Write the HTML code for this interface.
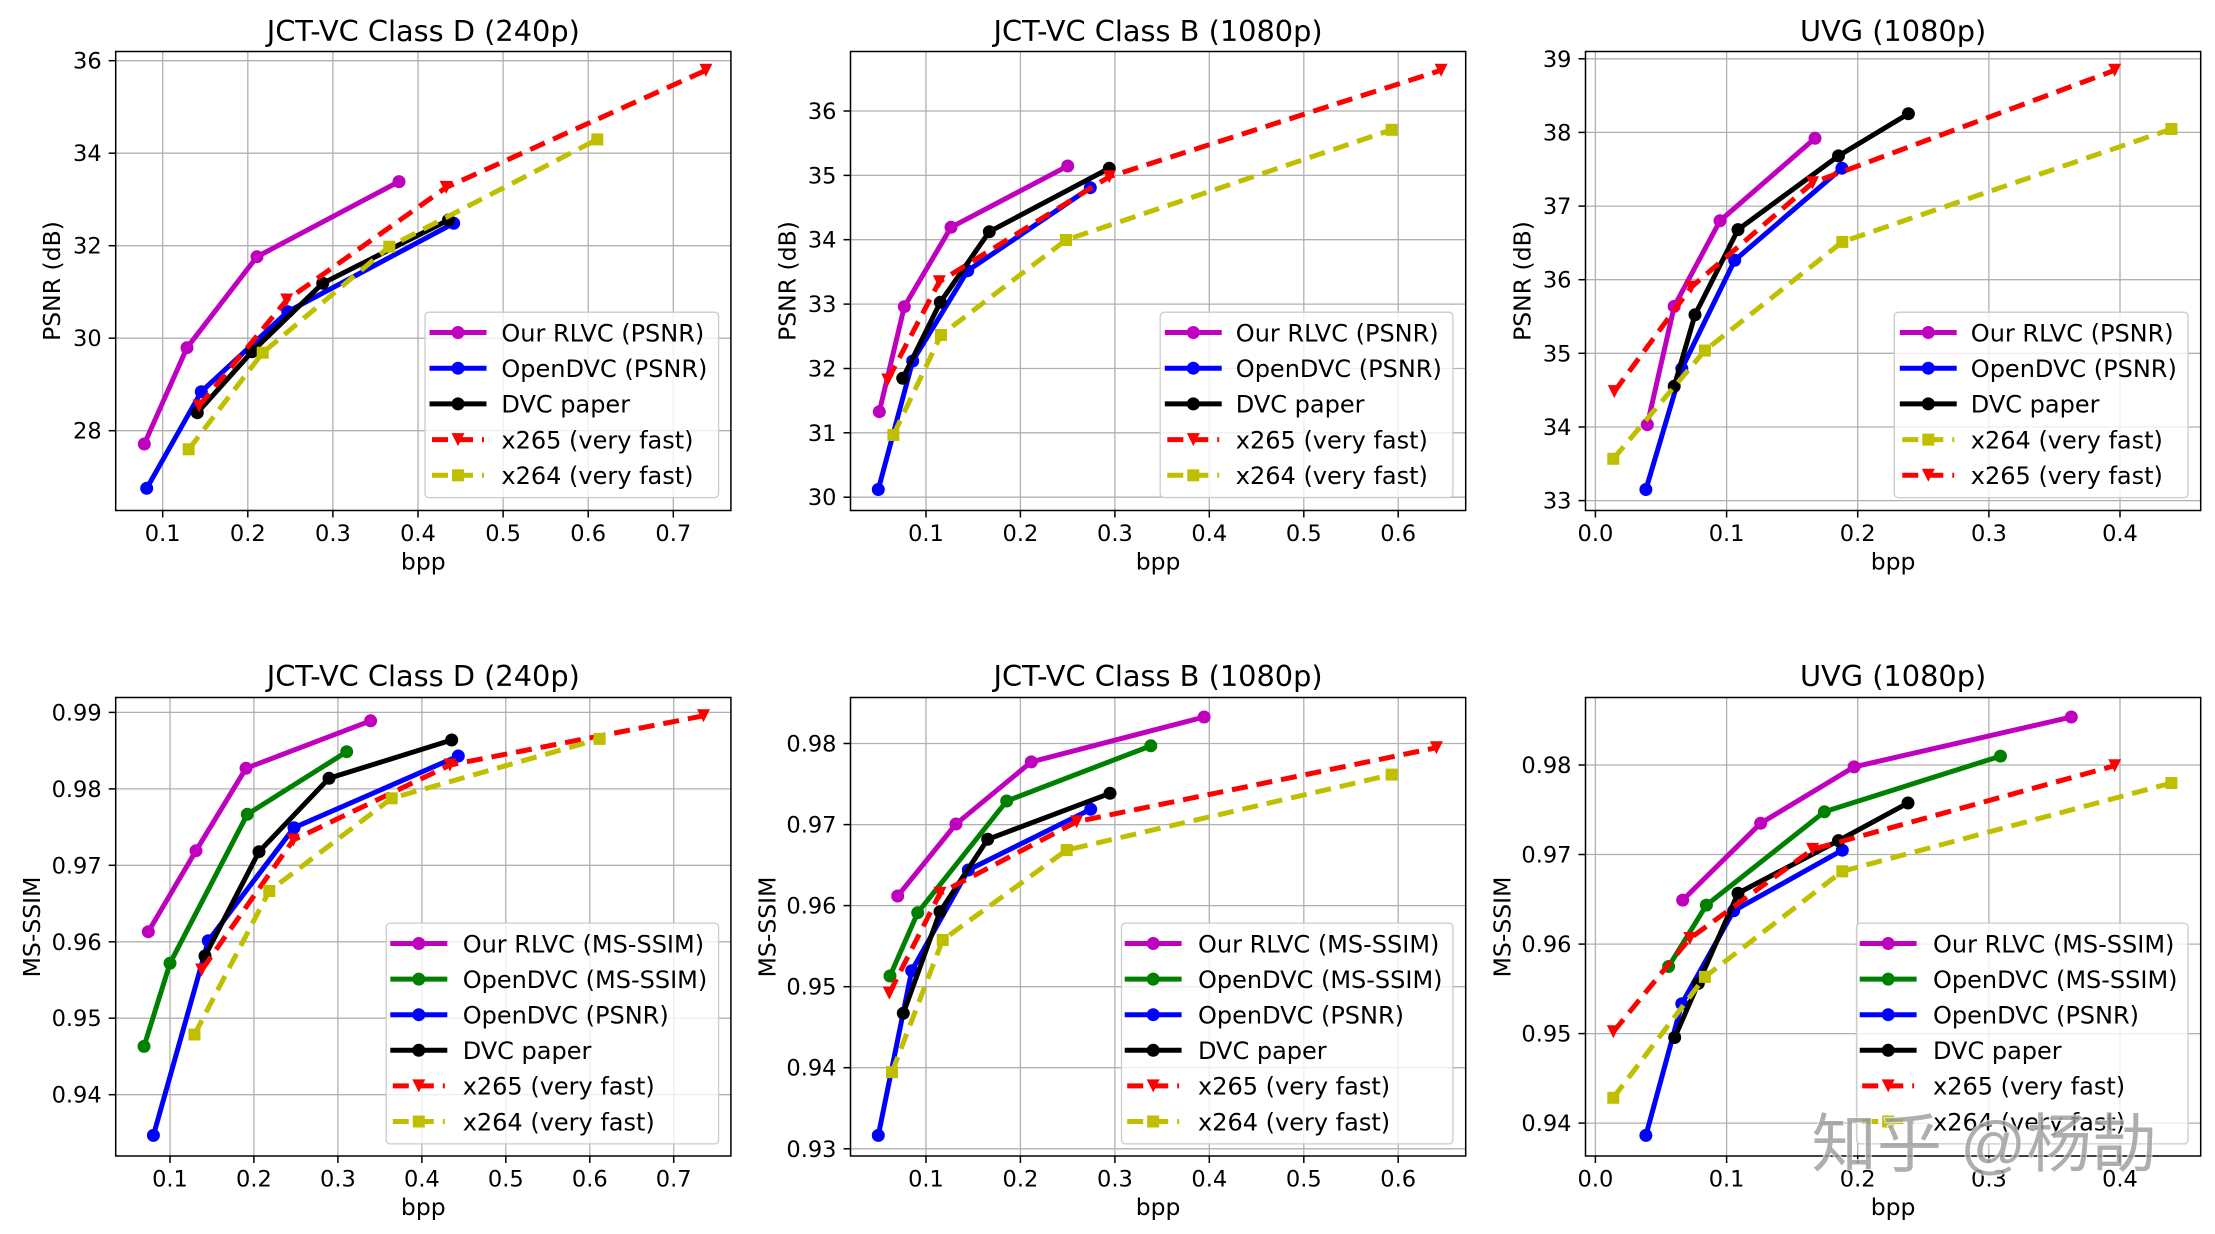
<!DOCTYPE html>
<html>
<head>
<meta charset="utf-8">
<style>
html,body{margin:0;padding:0;background:#fff;}
svg{display:block;}
.grid line{stroke:#b0b0b0;stroke-width:1.3;}
.tk line{stroke:#000;stroke-width:1.5;}
.spine{fill:none;stroke:#000;stroke-width:1.5;}
text{font-family:"DejaVu Sans","Liberation Sans",sans-serif;fill:#000;}
.tl{font-size:22.5px;}
.lb{font-size:23.5px;}
.tt{font-size:28.8px;}
.lg{font-size:24px;}
.s{fill:none;stroke-width:5;stroke-linejoin:round;stroke-linecap:square;}
.d{fill:none;stroke-width:5;stroke-linejoin:round;stroke-linecap:butt;stroke-dasharray:16 9;}
.cm{stroke:#bf00bf;} .cb{stroke:#0000ff;} .ck{stroke:#000;} .cr{stroke:#ff0000;} .cy{stroke:#bfbf00;} .cg{stroke:#008000;}
.leg{fill:#fff;fill-opacity:0.8;stroke:#cccccc;stroke-width:1.3;}
</style>
</head>
<body>
<svg width="2215" height="1234" viewBox="0 0 2215 1234" xmlns="http://www.w3.org/2000/svg">
<defs>
<marker id="om" markerUnits="userSpaceOnUse" markerWidth="16" markerHeight="16" refX="8" refY="8" orient="0"><circle cx="8" cy="8" r="6.5" fill="#bf00bf"/></marker>
<marker id="ob" markerUnits="userSpaceOnUse" markerWidth="16" markerHeight="16" refX="8" refY="8" orient="0"><circle cx="8" cy="8" r="6.5" fill="#0000ff"/></marker>
<marker id="ok" markerUnits="userSpaceOnUse" markerWidth="16" markerHeight="16" refX="8" refY="8" orient="0"><circle cx="8" cy="8" r="6.5" fill="#000"/></marker>
<marker id="og" markerUnits="userSpaceOnUse" markerWidth="16" markerHeight="16" refX="8" refY="8" orient="0"><circle cx="8" cy="8" r="6.5" fill="#008000"/></marker>
<marker id="vr" markerUnits="userSpaceOnUse" markerWidth="16" markerHeight="16" refX="8" refY="8" orient="0"><path d="M1.5,1.5 L14.5,1.5 L8,14.5 Z" fill="#ff0000"/></marker>
<marker id="sy" markerUnits="userSpaceOnUse" markerWidth="16" markerHeight="16" refX="8" refY="8" orient="0"><rect x="2" y="2" width="12" height="12" fill="#bfbf00"/></marker>
</defs>

<!-- ================= TOP LEFT ================= -->
<g class="grid">
<line x1="162.7" y1="51.5" x2="162.7" y2="510.5"/><line x1="247.8" y1="51.5" x2="247.8" y2="510.5"/><line x1="332.9" y1="51.5" x2="332.9" y2="510.5"/><line x1="418" y1="51.5" x2="418" y2="510.5"/><line x1="503.1" y1="51.5" x2="503.1" y2="510.5"/><line x1="588.2" y1="51.5" x2="588.2" y2="510.5"/><line x1="673.3" y1="51.5" x2="673.3" y2="510.5"/>
<line x1="115.7" y1="60.7" x2="730.9" y2="60.7"/><line x1="115.7" y1="153.2" x2="730.9" y2="153.2"/><line x1="115.7" y1="245.7" x2="730.9" y2="245.7"/><line x1="115.7" y1="338.2" x2="730.9" y2="338.2"/><line x1="115.7" y1="430.7" x2="730.9" y2="430.7"/>
</g>
<g class="tk">
<line x1="162.7" y1="510.5" x2="162.7" y2="517.5"/><line x1="247.8" y1="510.5" x2="247.8" y2="517.5"/><line x1="332.9" y1="510.5" x2="332.9" y2="517.5"/><line x1="418" y1="510.5" x2="418" y2="517.5"/><line x1="503.1" y1="510.5" x2="503.1" y2="517.5"/><line x1="588.2" y1="510.5" x2="588.2" y2="517.5"/><line x1="673.3" y1="510.5" x2="673.3" y2="517.5"/>
<line x1="108.7" y1="60.7" x2="115.7" y2="60.7"/><line x1="108.7" y1="153.2" x2="115.7" y2="153.2"/><line x1="108.7" y1="245.7" x2="115.7" y2="245.7"/><line x1="108.7" y1="338.2" x2="115.7" y2="338.2"/><line x1="108.7" y1="430.7" x2="115.7" y2="430.7"/>
</g>
<g class="tl" text-anchor="middle">
<text x="162.7" y="541">0.1</text><text x="247.8" y="541">0.2</text><text x="332.9" y="541">0.3</text><text x="418" y="541">0.4</text><text x="503.1" y="541">0.5</text><text x="588.2" y="541">0.6</text><text x="673.3" y="541">0.7</text>
</g>
<g class="tl" text-anchor="end">
<text x="101.7" y="68.7">36</text><text x="101.7" y="161.2">34</text><text x="101.7" y="253.7">32</text><text x="101.7" y="346.2">30</text><text x="101.7" y="438.7">28</text>
</g>
<text class="tt" x="423.3" y="41" text-anchor="middle">JCT-VC Class D (240p)</text>
<text class="lb" x="423.3" y="569.5" text-anchor="middle">bpp</text>
<text class="lb" transform="translate(60,281) rotate(-90)" text-anchor="middle">PSNR (dB)</text>
<polyline class="s cm" points="144.3,444 187,347.7 257,256.7 399,181.6" marker-start="url(#om)" marker-mid="url(#om)" marker-end="url(#om)"/>
<polyline class="s cb" points="146.7,488.3 201.3,391.7 287.7,311.7 453.7,223.3" marker-start="url(#ob)" marker-mid="url(#ob)" marker-end="url(#ob)"/>
<polyline class="s ck" points="197.3,412.7 252,351.7 322.7,283.3 448.5,220" marker-start="url(#ok)" marker-mid="url(#ok)" marker-end="url(#ok)"/>
<polyline class="d cr" points="199,406 286.7,300 446.2,187.4 705.9,70.3" marker-start="url(#vr)" marker-mid="url(#vr)" marker-end="url(#vr)"/>
<polyline class="d cy" points="188.7,449.3 262.7,352.7 389.3,246.7 597.3,139.4" marker-start="url(#sy)" marker-mid="url(#sy)" marker-end="url(#sy)"/>
<rect class="spine" x="115.7" y="51.5" width="615.2" height="459"/>
<rect class="leg" x="425" y="312.2" width="293.6" height="185.4" rx="4"/>
<polyline class="s cm" points="432,332.5 458,332.5 484,332.5" marker-mid="url(#om)"/>
<polyline class="s cb" points="432,368.2 458,368.2 484,368.2" marker-mid="url(#ob)"/>
<polyline class="s ck" points="432,403.9 458,403.9 484,403.9" marker-mid="url(#ok)"/>
<polyline class="d cr" points="432,439.6 458,439.6 484,439.6" marker-mid="url(#vr)"/>
<polyline class="d cy" points="432,475.3 458,475.3 484,475.3" marker-mid="url(#sy)"/>
<g class="lg">
<text x="501.4" y="341.3">Our RLVC (PSNR)</text>
<text x="501.4" y="377">OpenDVC (PSNR)</text>
<text x="501.4" y="412.7">DVC paper</text>
<text x="501.4" y="448.4">x265 (very fast)</text>
<text x="501.4" y="484.1">x264 (very fast)</text>
</g>

<!-- ================= TOP MIDDLE ================= -->
<g class="grid">
<line x1="926" y1="51.5" x2="926" y2="510.5"/><line x1="1020.4" y1="51.5" x2="1020.4" y2="510.5"/><line x1="1114.9" y1="51.5" x2="1114.9" y2="510.5"/><line x1="1209.3" y1="51.5" x2="1209.3" y2="510.5"/><line x1="1303.8" y1="51.5" x2="1303.8" y2="510.5"/><line x1="1398.2" y1="51.5" x2="1398.2" y2="510.5"/>
<line x1="850.5" y1="111" x2="1465.7" y2="111"/><line x1="850.5" y1="175.4" x2="1465.7" y2="175.4"/><line x1="850.5" y1="239.7" x2="1465.7" y2="239.7"/><line x1="850.5" y1="304.1" x2="1465.7" y2="304.1"/><line x1="850.5" y1="368.5" x2="1465.7" y2="368.5"/><line x1="850.5" y1="432.8" x2="1465.7" y2="432.8"/><line x1="850.5" y1="497.2" x2="1465.7" y2="497.2"/>
</g>
<g class="tk">
<line x1="926" y1="510.5" x2="926" y2="517.5"/><line x1="1020.4" y1="510.5" x2="1020.4" y2="517.5"/><line x1="1114.9" y1="510.5" x2="1114.9" y2="517.5"/><line x1="1209.3" y1="510.5" x2="1209.3" y2="517.5"/><line x1="1303.8" y1="510.5" x2="1303.8" y2="517.5"/><line x1="1398.2" y1="510.5" x2="1398.2" y2="517.5"/>
<line x1="843.5" y1="111" x2="850.5" y2="111"/><line x1="843.5" y1="175.4" x2="850.5" y2="175.4"/><line x1="843.5" y1="239.7" x2="850.5" y2="239.7"/><line x1="843.5" y1="304.1" x2="850.5" y2="304.1"/><line x1="843.5" y1="368.5" x2="850.5" y2="368.5"/><line x1="843.5" y1="432.8" x2="850.5" y2="432.8"/><line x1="843.5" y1="497.2" x2="850.5" y2="497.2"/>
</g>
<g class="tl" text-anchor="middle">
<text x="926" y="541">0.1</text><text x="1020.4" y="541">0.2</text><text x="1114.9" y="541">0.3</text><text x="1209.3" y="541">0.4</text><text x="1303.8" y="541">0.5</text><text x="1398.2" y="541">0.6</text>
</g>
<g class="tl" text-anchor="end">
<text x="836.5" y="119">36</text><text x="836.5" y="183.4">35</text><text x="836.5" y="247.7">34</text><text x="836.5" y="312.1">33</text><text x="836.5" y="376.5">32</text><text x="836.5" y="440.8">31</text><text x="836.5" y="505.2">30</text>
</g>
<text class="tt" x="1158.1" y="41" text-anchor="middle">JCT-VC Class B (1080p)</text>
<text class="lb" x="1158.1" y="569.5" text-anchor="middle">bpp</text>
<text class="lb" transform="translate(795.5,281) rotate(-90)" text-anchor="middle">PSNR (dB)</text>
<polyline class="s cm" points="879.3,411.7 904.3,306.7 951,227.3 1067.7,166" marker-start="url(#om)" marker-mid="url(#om)" marker-end="url(#om)"/>
<polyline class="s cb" points="878.3,489.5 912.7,361 967.7,270.7 1090.3,187.7" marker-start="url(#ob)" marker-mid="url(#ob)" marker-end="url(#ob)"/>
<polyline class="s ck" points="902.7,378.3 940.3,302.3 989.3,231.7 1109.3,168.3" marker-start="url(#ok)" marker-mid="url(#ok)" marker-end="url(#ok)"/>
<polyline class="d cr" points="887.7,380 939.3,281.7 1109.3,176.7 1441.1,70.3" marker-start="url(#vr)" marker-mid="url(#vr)" marker-end="url(#vr)"/>
<polyline class="d cy" points="893.4,435 941,335 1066,240 1391.6,129.8" marker-start="url(#sy)" marker-mid="url(#sy)" marker-end="url(#sy)"/>
<rect class="spine" x="850.5" y="51.5" width="615.2" height="459"/>
<rect class="leg" x="1160.2" y="312.2" width="292.7" height="185.4" rx="4"/>
<polyline class="s cm" points="1167.3,332.5 1193.3,332.5 1219.2,332.5" marker-mid="url(#om)"/>
<polyline class="s cb" points="1167.3,368.2 1193.3,368.2 1219.2,368.2" marker-mid="url(#ob)"/>
<polyline class="s ck" points="1167.3,403.9 1193.3,403.9 1219.2,403.9" marker-mid="url(#ok)"/>
<polyline class="d cr" points="1167.3,439.6 1193.3,439.6 1219.2,439.6" marker-mid="url(#vr)"/>
<polyline class="d cy" points="1167.3,475.3 1193.3,475.3 1219.2,475.3" marker-mid="url(#sy)"/>
<g class="lg">
<text x="1235.8" y="341.3">Our RLVC (PSNR)</text>
<text x="1235.8" y="377">OpenDVC (PSNR)</text>
<text x="1235.8" y="412.7">DVC paper</text>
<text x="1235.8" y="448.4">x265 (very fast)</text>
<text x="1235.8" y="484.1">x264 (very fast)</text>
</g>

<!-- ================= TOP RIGHT ================= -->
<g class="grid">
<line x1="1595.4" y1="51.5" x2="1595.4" y2="510.5"/><line x1="1726.6" y1="51.5" x2="1726.6" y2="510.5"/><line x1="1857.7" y1="51.5" x2="1857.7" y2="510.5"/><line x1="1988.9" y1="51.5" x2="1988.9" y2="510.5"/><line x1="2120" y1="51.5" x2="2120" y2="510.5"/>
<line x1="1585.5" y1="58.8" x2="2200.7" y2="58.8"/><line x1="1585.5" y1="132.4" x2="2200.7" y2="132.4"/><line x1="1585.5" y1="206.1" x2="2200.7" y2="206.1"/><line x1="1585.5" y1="279.7" x2="2200.7" y2="279.7"/><line x1="1585.5" y1="353.3" x2="2200.7" y2="353.3"/><line x1="1585.5" y1="427" x2="2200.7" y2="427"/><line x1="1585.5" y1="500.6" x2="2200.7" y2="500.6"/>
</g>
<g class="tk">
<line x1="1595.4" y1="510.5" x2="1595.4" y2="517.5"/><line x1="1726.6" y1="510.5" x2="1726.6" y2="517.5"/><line x1="1857.7" y1="510.5" x2="1857.7" y2="517.5"/><line x1="1988.9" y1="510.5" x2="1988.9" y2="517.5"/><line x1="2120" y1="510.5" x2="2120" y2="517.5"/>
<line x1="1578.5" y1="58.8" x2="1585.5" y2="58.8"/><line x1="1578.5" y1="132.4" x2="1585.5" y2="132.4"/><line x1="1578.5" y1="206.1" x2="1585.5" y2="206.1"/><line x1="1578.5" y1="279.7" x2="1585.5" y2="279.7"/><line x1="1578.5" y1="353.3" x2="1585.5" y2="353.3"/><line x1="1578.5" y1="427" x2="1585.5" y2="427"/><line x1="1578.5" y1="500.6" x2="1585.5" y2="500.6"/>
</g>
<g class="tl" text-anchor="middle">
<text x="1595.4" y="541">0.0</text><text x="1726.6" y="541">0.1</text><text x="1857.7" y="541">0.2</text><text x="1988.9" y="541">0.3</text><text x="2120" y="541">0.4</text>
</g>
<g class="tl" text-anchor="end">
<text x="1571.5" y="66.8">39</text><text x="1571.5" y="140.4">38</text><text x="1571.5" y="214.1">37</text><text x="1571.5" y="287.7">36</text><text x="1571.5" y="361.3">35</text><text x="1571.5" y="435">34</text><text x="1571.5" y="508.6">33</text>
</g>
<text class="tt" x="1893.1" y="41" text-anchor="middle">UVG (1080p)</text>
<text class="lb" x="1893.1" y="569.5" text-anchor="middle">bpp</text>
<text class="lb" transform="translate(1530.5,281) rotate(-90)" text-anchor="middle">PSNR (dB)</text>
<polyline class="s cm" points="1647.3,424.6 1674.2,306.4 1720,220.8 1815,138.3" marker-start="url(#om)" marker-mid="url(#om)" marker-end="url(#om)"/>
<polyline class="s cb" points="1645.9,489.5 1681.8,368.6 1734.7,260.3 1841.9,168.2" marker-start="url(#ob)" marker-mid="url(#ob)" marker-end="url(#ob)"/>
<polyline class="s ck" points="1674.2,386.3 1695,314.8 1738,229.6 1838.5,155.9 1908.4,113.7" marker-start="url(#ok)" marker-mid="url(#ok)" marker-end="url(#ok)"/>
<polyline class="d cy" points="1613.3,458.8 1704.9,350.5 1842.3,241.9 2171.4,129" marker-start="url(#sy)" marker-mid="url(#sy)" marker-end="url(#sy)"/>
<polyline class="d cr" points="1614.3,391.6 1691.2,287.2 1812.6,182.8 2114.7,70.3" marker-start="url(#vr)" marker-mid="url(#vr)" marker-end="url(#vr)"/>
<rect class="spine" x="1585.5" y="51.5" width="615.2" height="459"/>
<rect class="leg" x="1894.3" y="312.2" width="293.7" height="185.4" rx="4"/>
<polyline class="s cm" points="1902.3,332.5 1928.3,332.5 1954.2,332.5" marker-mid="url(#om)"/>
<polyline class="s cb" points="1902.3,368.2 1928.3,368.2 1954.2,368.2" marker-mid="url(#ob)"/>
<polyline class="s ck" points="1902.3,403.9 1928.3,403.9 1954.2,403.9" marker-mid="url(#ok)"/>
<polyline class="d cy" points="1902.3,439.6 1928.3,439.6 1954.2,439.6" marker-mid="url(#sy)"/>
<polyline class="d cr" points="1902.3,475.3 1928.3,475.3 1954.2,475.3" marker-mid="url(#vr)"/>
<g class="lg">
<text x="1970.8" y="341.3">Our RLVC (PSNR)</text>
<text x="1970.8" y="377">OpenDVC (PSNR)</text>
<text x="1970.8" y="412.7">DVC paper</text>
<text x="1970.8" y="448.4">x264 (very fast)</text>
<text x="1970.8" y="484.1">x265 (very fast)</text>
</g>

<!-- ================= BOTTOM LEFT ================= -->
<g class="grid">
<line x1="170" y1="697.5" x2="170" y2="1156"/><line x1="253.9" y1="697.5" x2="253.9" y2="1156"/><line x1="337.9" y1="697.5" x2="337.9" y2="1156"/><line x1="421.9" y1="697.5" x2="421.9" y2="1156"/><line x1="505.8" y1="697.5" x2="505.8" y2="1156"/><line x1="589.8" y1="697.5" x2="589.8" y2="1156"/><line x1="673.7" y1="697.5" x2="673.7" y2="1156"/>
<line x1="115.7" y1="712.4" x2="730.9" y2="712.4"/><line x1="115.7" y1="788.9" x2="730.9" y2="788.9"/><line x1="115.7" y1="865.3" x2="730.9" y2="865.3"/><line x1="115.7" y1="941.8" x2="730.9" y2="941.8"/><line x1="115.7" y1="1018.2" x2="730.9" y2="1018.2"/><line x1="115.7" y1="1094.7" x2="730.9" y2="1094.7"/>
</g>
<g class="tk">
<line x1="170" y1="1156" x2="170" y2="1163"/><line x1="253.9" y1="1156" x2="253.9" y2="1163"/><line x1="337.9" y1="1156" x2="337.9" y2="1163"/><line x1="421.9" y1="1156" x2="421.9" y2="1163"/><line x1="505.8" y1="1156" x2="505.8" y2="1163"/><line x1="589.8" y1="1156" x2="589.8" y2="1163"/><line x1="673.7" y1="1156" x2="673.7" y2="1163"/>
<line x1="108.7" y1="712.4" x2="115.7" y2="712.4"/><line x1="108.7" y1="788.9" x2="115.7" y2="788.9"/><line x1="108.7" y1="865.3" x2="115.7" y2="865.3"/><line x1="108.7" y1="941.8" x2="115.7" y2="941.8"/><line x1="108.7" y1="1018.2" x2="115.7" y2="1018.2"/><line x1="108.7" y1="1094.7" x2="115.7" y2="1094.7"/>
</g>
<g class="tl" text-anchor="middle">
<text x="170" y="1186.5">0.1</text><text x="253.9" y="1186.5">0.2</text><text x="337.9" y="1186.5">0.3</text><text x="421.9" y="1186.5">0.4</text><text x="505.8" y="1186.5">0.5</text><text x="589.8" y="1186.5">0.6</text><text x="673.7" y="1186.5">0.7</text>
</g>
<g class="tl" text-anchor="end">
<text x="101.7" y="720.4">0.99</text><text x="101.7" y="796.9">0.98</text><text x="101.7" y="873.3">0.97</text><text x="101.7" y="949.8">0.96</text><text x="101.7" y="1026.2">0.95</text><text x="101.7" y="1102.7">0.94</text>
</g>
<text class="tt" x="423.3" y="686" text-anchor="middle">JCT-VC Class D (240p)</text>
<text class="lb" x="423.3" y="1215" text-anchor="middle">bpp</text>
<text class="lb" transform="translate(40,927) rotate(-90)" text-anchor="middle">MS-SSIM</text>
<polyline class="s cm" points="148.3,931.7 196,850.7 246,768.3 370.6,720.8" marker-start="url(#om)" marker-mid="url(#om)" marker-end="url(#om)"/>
<polyline class="s cg" points="144,1046.4 170,963.3 247.3,814.3 346.7,751.7" marker-start="url(#og)" marker-mid="url(#og)" marker-end="url(#og)"/>
<polyline class="s cb" points="153.4,1135.4 208.3,940.7 294,827.7 458.3,756" marker-start="url(#ob)" marker-mid="url(#ob)" marker-end="url(#ob)"/>
<polyline class="s ck" points="205,956 259,851.7 329,778.3 451.7,740" marker-start="url(#ok)" marker-mid="url(#ok)" marker-end="url(#ok)"/>
<polyline class="d cr" points="201.7,970 293.3,840 450,765 703.5,715.8" marker-start="url(#vr)" marker-mid="url(#vr)" marker-end="url(#vr)"/>
<polyline class="d cy" points="194.5,1034.5 269.3,891 391.7,798.3 599.6,738.9" marker-start="url(#sy)" marker-mid="url(#sy)" marker-end="url(#sy)"/>
<rect class="spine" x="115.7" y="697.5" width="615.2" height="458.5"/>
<rect class="leg" x="386.2" y="923.1" width="332.4" height="220.8" rx="4"/>
<polyline class="s cm" points="392.8,943.5 418.8,943.5 444.8,943.5" marker-mid="url(#om)"/>
<polyline class="s cg" points="392.8,979.1 418.8,979.1 444.8,979.1" marker-mid="url(#og)"/>
<polyline class="s cb" points="392.8,1014.7 418.8,1014.7 444.8,1014.7" marker-mid="url(#ob)"/>
<polyline class="s ck" points="392.8,1050.3 418.8,1050.3 444.8,1050.3" marker-mid="url(#ok)"/>
<polyline class="d cr" points="392.8,1085.9 418.8,1085.9 444.8,1085.9" marker-mid="url(#vr)"/>
<polyline class="d cy" points="392.8,1121.5 418.8,1121.5 444.8,1121.5" marker-mid="url(#sy)"/>
<g class="lg">
<text x="462.7" y="952.3">Our RLVC (MS-SSIM)</text>
<text x="462.7" y="987.9">OpenDVC (MS-SSIM)</text>
<text x="462.7" y="1023.5">OpenDVC (PSNR)</text>
<text x="462.7" y="1059.1">DVC paper</text>
<text x="462.7" y="1094.7">x265 (very fast)</text>
<text x="462.7" y="1130.3">x264 (very fast)</text>
</g>

<!-- ================= BOTTOM MIDDLE ================= -->
<g class="grid">
<line x1="926" y1="697.5" x2="926" y2="1156"/><line x1="1020.4" y1="697.5" x2="1020.4" y2="1156"/><line x1="1114.9" y1="697.5" x2="1114.9" y2="1156"/><line x1="1209.3" y1="697.5" x2="1209.3" y2="1156"/><line x1="1303.8" y1="697.5" x2="1303.8" y2="1156"/><line x1="1398.2" y1="697.5" x2="1398.2" y2="1156"/>
<line x1="850.5" y1="743.5" x2="1465.7" y2="743.5"/><line x1="850.5" y1="824.6" x2="1465.7" y2="824.6"/><line x1="850.5" y1="905.6" x2="1465.7" y2="905.6"/><line x1="850.5" y1="986.7" x2="1465.7" y2="986.7"/><line x1="850.5" y1="1067.7" x2="1465.7" y2="1067.7"/><line x1="850.5" y1="1148.8" x2="1465.7" y2="1148.8"/>
</g>
<g class="tk">
<line x1="926" y1="1156" x2="926" y2="1163"/><line x1="1020.4" y1="1156" x2="1020.4" y2="1163"/><line x1="1114.9" y1="1156" x2="1114.9" y2="1163"/><line x1="1209.3" y1="1156" x2="1209.3" y2="1163"/><line x1="1303.8" y1="1156" x2="1303.8" y2="1163"/><line x1="1398.2" y1="1156" x2="1398.2" y2="1163"/>
<line x1="843.5" y1="743.5" x2="850.5" y2="743.5"/><line x1="843.5" y1="824.6" x2="850.5" y2="824.6"/><line x1="843.5" y1="905.6" x2="850.5" y2="905.6"/><line x1="843.5" y1="986.7" x2="850.5" y2="986.7"/><line x1="843.5" y1="1067.7" x2="850.5" y2="1067.7"/><line x1="843.5" y1="1148.8" x2="850.5" y2="1148.8"/>
</g>
<g class="tl" text-anchor="middle">
<text x="926" y="1186.5">0.1</text><text x="1020.4" y="1186.5">0.2</text><text x="1114.9" y="1186.5">0.3</text><text x="1209.3" y="1186.5">0.4</text><text x="1303.8" y="1186.5">0.5</text><text x="1398.2" y="1186.5">0.6</text>
</g>
<g class="tl" text-anchor="end">
<text x="836.5" y="751.5">0.98</text><text x="836.5" y="832.6">0.97</text><text x="836.5" y="913.6">0.96</text><text x="836.5" y="994.7">0.95</text><text x="836.5" y="1075.7">0.94</text><text x="836.5" y="1156.8">0.93</text>
</g>
<text class="tt" x="1158.1" y="686" text-anchor="middle">JCT-VC Class B (1080p)</text>
<text class="lb" x="1158.1" y="1215" text-anchor="middle">bpp</text>
<text class="lb" transform="translate(775.4,927) rotate(-90)" text-anchor="middle">MS-SSIM</text>
<polyline class="s cm" points="897.7,896 956,824 1031.3,761.9 1204.1,717" marker-start="url(#om)" marker-mid="url(#om)" marker-end="url(#om)"/>
<polyline class="s cg" points="890,976 917.7,912.7 1006.7,801 1150.8,745.8" marker-start="url(#og)" marker-mid="url(#og)" marker-end="url(#og)"/>
<polyline class="s cb" points="878.3,1135.4 911.7,970.7 968.3,870 1090.7,809.3" marker-start="url(#ob)" marker-mid="url(#ob)" marker-end="url(#ob)"/>
<polyline class="s ck" points="903.3,1013.3 940,911.7 987.7,839.3 1110,793.3" marker-start="url(#ok)" marker-mid="url(#ok)" marker-end="url(#ok)"/>
<polyline class="d cr" points="889.3,993.3 940,893.3 1076.7,821.7 1436.4,747.7" marker-start="url(#vr)" marker-mid="url(#vr)" marker-end="url(#vr)"/>
<polyline class="d cy" points="892,1072.1 942.7,940 1066.7,850 1391.6,774.6" marker-start="url(#sy)" marker-mid="url(#sy)" marker-end="url(#sy)"/>
<rect class="spine" x="850.5" y="697.5" width="615.2" height="458.5"/>
<rect class="leg" x="1121.5" y="923.1" width="331.4" height="220.8" rx="4"/>
<polyline class="s cm" points="1127.2,943.5 1153.2,943.5 1179.1,943.5" marker-mid="url(#om)"/>
<polyline class="s cg" points="1127.2,979.1 1153.2,979.1 1179.1,979.1" marker-mid="url(#og)"/>
<polyline class="s cb" points="1127.2,1014.7 1153.2,1014.7 1179.1,1014.7" marker-mid="url(#ob)"/>
<polyline class="s ck" points="1127.2,1050.3 1153.2,1050.3 1179.1,1050.3" marker-mid="url(#ok)"/>
<polyline class="d cr" points="1127.2,1085.9 1153.2,1085.9 1179.1,1085.9" marker-mid="url(#vr)"/>
<polyline class="d cy" points="1127.2,1121.5 1153.2,1121.5 1179.1,1121.5" marker-mid="url(#sy)"/>
<g class="lg">
<text x="1198" y="952.3">Our RLVC (MS-SSIM)</text>
<text x="1198" y="987.9">OpenDVC (MS-SSIM)</text>
<text x="1198" y="1023.5">OpenDVC (PSNR)</text>
<text x="1198" y="1059.1">DVC paper</text>
<text x="1198" y="1094.7">x265 (very fast)</text>
<text x="1198" y="1130.3">x264 (very fast)</text>
</g>

<!-- ================= BOTTOM RIGHT ================= -->
<g class="grid">
<line x1="1595.4" y1="697.5" x2="1595.4" y2="1156"/><line x1="1726.6" y1="697.5" x2="1726.6" y2="1156"/><line x1="1857.7" y1="697.5" x2="1857.7" y2="1156"/><line x1="1988.9" y1="697.5" x2="1988.9" y2="1156"/><line x1="2120" y1="697.5" x2="2120" y2="1156"/>
<line x1="1585.5" y1="765" x2="2200.7" y2="765"/><line x1="1585.5" y1="854.5" x2="2200.7" y2="854.5"/><line x1="1585.5" y1="944.1" x2="2200.7" y2="944.1"/><line x1="1585.5" y1="1033.6" x2="2200.7" y2="1033.6"/><line x1="1585.5" y1="1123.1" x2="2200.7" y2="1123.1"/>
</g>
<g class="tk">
<line x1="1595.4" y1="1156" x2="1595.4" y2="1163"/><line x1="1726.6" y1="1156" x2="1726.6" y2="1163"/><line x1="1857.7" y1="1156" x2="1857.7" y2="1163"/><line x1="1988.9" y1="1156" x2="1988.9" y2="1163"/><line x1="2120" y1="1156" x2="2120" y2="1163"/>
<line x1="1578.5" y1="765" x2="1585.5" y2="765"/><line x1="1578.5" y1="854.5" x2="1585.5" y2="854.5"/><line x1="1578.5" y1="944.1" x2="1585.5" y2="944.1"/><line x1="1578.5" y1="1033.6" x2="1585.5" y2="1033.6"/><line x1="1578.5" y1="1123.1" x2="1585.5" y2="1123.1"/>
</g>
<g class="tl" text-anchor="middle">
<text x="1595.4" y="1186.5">0.0</text><text x="1726.6" y="1186.5">0.1</text><text x="1857.7" y="1186.5">0.2</text><text x="1988.9" y="1186.5">0.3</text><text x="2120" y="1186.5">0.4</text>
</g>
<g class="tl" text-anchor="end">
<text x="1571.5" y="773">0.98</text><text x="1571.5" y="862.5">0.97</text><text x="1571.5" y="952.1">0.96</text><text x="1571.5" y="1041.6">0.95</text><text x="1571.5" y="1131.1">0.94</text>
</g>
<text class="tt" x="1893.1" y="686" text-anchor="middle">UVG (1080p)</text>
<text class="lb" x="1893.1" y="1215" text-anchor="middle">bpp</text>
<text class="lb" transform="translate(1510.4,927) rotate(-90)" text-anchor="middle">MS-SSIM</text>
<polyline class="s cm" points="1682.7,900.1 1760.6,823.3 1854.1,766.9 2071.3,717" marker-start="url(#om)" marker-mid="url(#om)" marker-end="url(#om)"/>
<polyline class="s cg" points="1668.6,966.5 1706.4,905.1 1824.4,811.8 2000.5,756.1" marker-start="url(#og)" marker-mid="url(#og)" marker-end="url(#og)"/>
<polyline class="s cb" points="1645.9,1135.4 1681.8,1003.7 1733.7,910.8 1842.3,850.2" marker-start="url(#ob)" marker-mid="url(#ob)" marker-end="url(#ob)"/>
<polyline class="s ck" points="1674.7,1037.5 1698.3,983.4 1738,893.2 1838.5,840.6 1908,803" marker-start="url(#ok)" marker-mid="url(#ok)" marker-end="url(#ok)"/>
<polyline class="d cr" points="1613.3,1031.8 1689.8,938.5 1812.6,849.4 2114.7,765.7" marker-start="url(#vr)" marker-mid="url(#vr)" marker-end="url(#vr)"/>
<polyline class="d cy" points="1613.3,1097.8 1704.9,976.9 1842.3,871.3 2171.4,783" marker-start="url(#sy)" marker-mid="url(#sy)" marker-end="url(#sy)"/>
<rect class="spine" x="1585.5" y="697.5" width="615.2" height="458.5"/>
<rect class="leg" x="1856.5" y="923.1" width="331.5" height="220.8" rx="4"/>
<polyline class="s cm" points="1862.2,943.5 1888.2,943.5 1914.1,943.5" marker-mid="url(#om)"/>
<polyline class="s cg" points="1862.2,979.1 1888.2,979.1 1914.1,979.1" marker-mid="url(#og)"/>
<polyline class="s cb" points="1862.2,1014.7 1888.2,1014.7 1914.1,1014.7" marker-mid="url(#ob)"/>
<polyline class="s ck" points="1862.2,1050.3 1888.2,1050.3 1914.1,1050.3" marker-mid="url(#ok)"/>
<polyline class="d cr" points="1862.2,1085.9 1888.2,1085.9 1914.1,1085.9" marker-mid="url(#vr)"/>
<polyline class="d cy" points="1862.2,1121.5 1888.2,1121.5 1914.1,1121.5" marker-mid="url(#sy)"/>
<g class="lg">
<text x="1933" y="952.3">Our RLVC (MS-SSIM)</text>
<text x="1933" y="987.9">OpenDVC (MS-SSIM)</text>
<text x="1933" y="1023.5">OpenDVC (PSNR)</text>
<text x="1933" y="1059.1">DVC paper</text>
<text x="1933" y="1094.7">x265 (very fast)</text>
<text x="1933" y="1130.3">x264 (very fast)</text>
</g>

<!-- watermark -->
<text x="1811.7" y="1166.5" textLength="345" lengthAdjust="spacingAndGlyphs" style="font-family:'Liberation Sans','Noto Sans CJK SC',sans-serif;font-size:64px;fill:#9a9a9a;fill-opacity:0.8;stroke:#ffffff;stroke-width:2;stroke-opacity:0.7;paint-order:stroke;">知乎 @杨劼</text>
</svg>
</body>
</html>
